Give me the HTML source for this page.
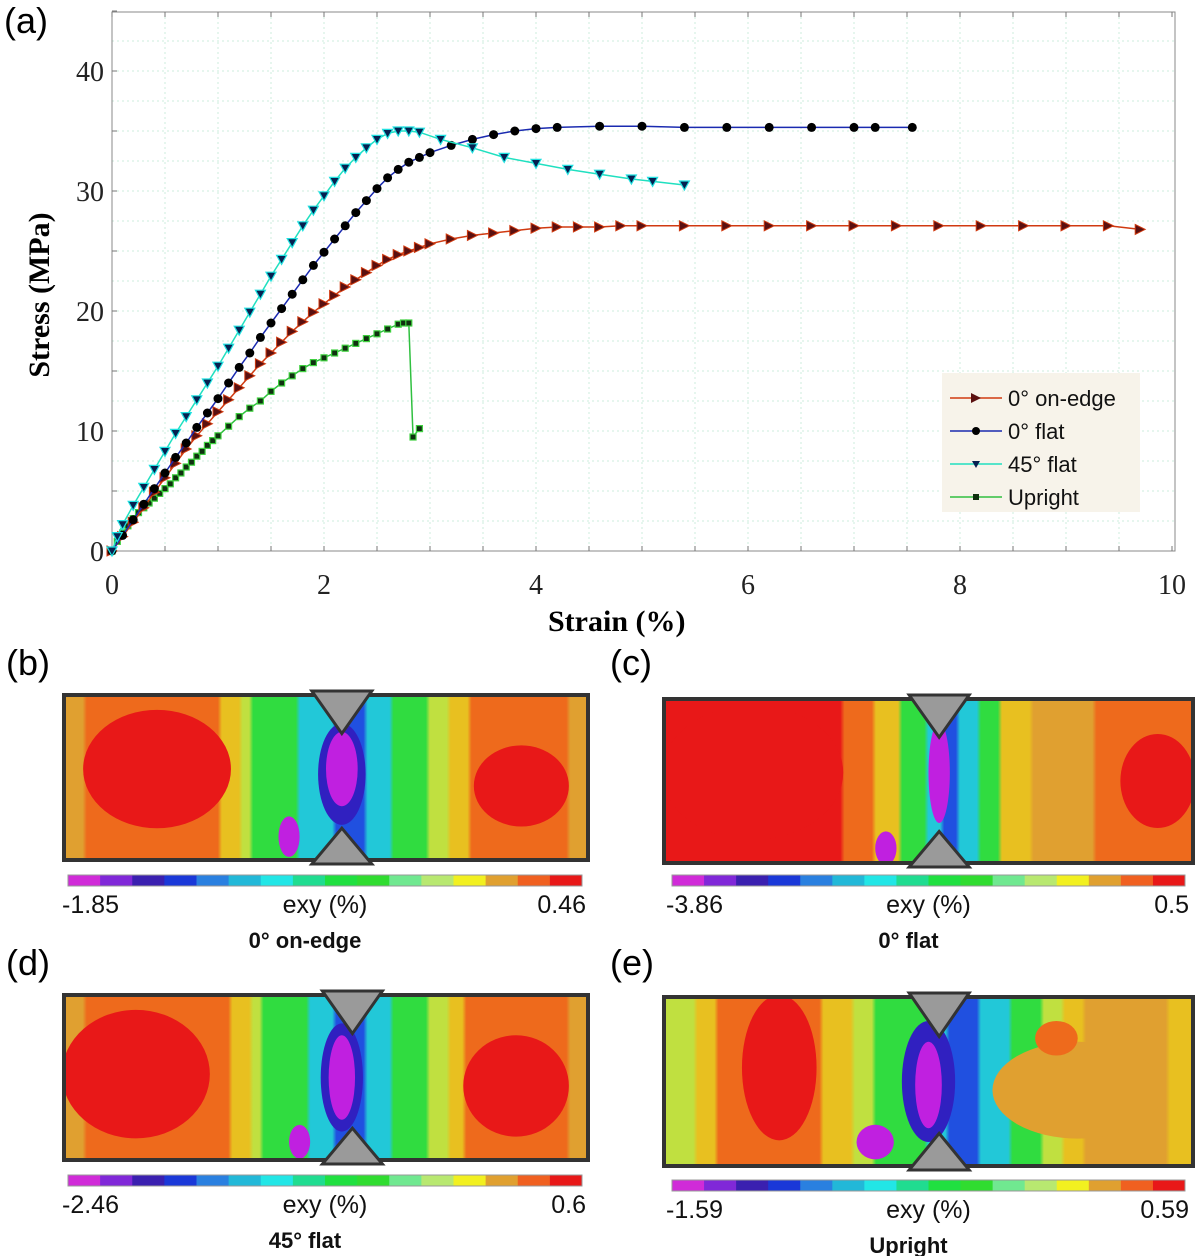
<!DOCTYPE html>
<html><head><meta charset="utf-8">
<style>
body{margin:0;background:#fff;width:1200px;height:1256px;overflow:hidden;position:relative;font-family:"Liberation Sans",sans-serif;}
.t{position:absolute;white-space:nowrap;}
</style></head>
<body>
<svg id="main" width="1200" height="1256" style="position:absolute;left:0;top:0"></svg>
<script>
// ---------- chart data ----------
const xTicks=[0,2,4,6,8,10];
const yTicks=[0,10,20,30,40];
const onEdgeX=[0,0.1,0.2,0.3,0.4,0.5,0.6,0.7,0.8,0.9,1.0,1.1,1.2,1.3,1.4,1.5,1.6,1.7,1.8,1.9,2.0,2.1,2.2,2.3,2.4,2.5,2.6,2.7,2.8,2.9,3.0,3.2,3.4,3.6,3.8,4.0,4.2,4.4,4.6,4.8,5.0,5.4,5.8,6.2,6.6,7.0,7.4,7.8,8.2,8.6,9.0,9.4,9.7];
const onEdgeY=[0,1.2,2.4,3.6,4.9,6.1,7.3,8.5,9.6,10.6,11.6,12.6,13.6,14.6,15.6,16.5,17.4,18.3,19.1,19.9,20.6,21.3,22.0,22.6,23.2,23.8,24.3,24.7,25.0,25.3,25.6,26.0,26.3,26.5,26.7,26.9,27.0,27.0,27.0,27.1,27.1,27.1,27.1,27.1,27.1,27.1,27.1,27.1,27.1,27.1,27.1,27.1,26.8];
const flatX=[0,0.1,0.2,0.3,0.4,0.5,0.6,0.7,0.8,0.9,1.0,1.1,1.2,1.3,1.4,1.5,1.6,1.7,1.8,1.9,2.0,2.1,2.2,2.3,2.4,2.5,2.6,2.7,2.8,2.9,3.0,3.2,3.4,3.6,3.8,4.0,4.2,4.6,5.0,5.4,5.8,6.2,6.6,7.0,7.2,7.55];
const flatY=[0,1.3,2.6,3.9,5.2,6.5,7.8,9.0,10.3,11.5,12.7,14.0,15.3,16.5,17.8,19.0,20.2,21.4,22.6,23.8,24.9,26.0,27.1,28.2,29.2,30.2,31.1,31.8,32.4,32.8,33.2,33.8,34.3,34.7,35.0,35.2,35.3,35.4,35.4,35.3,35.3,35.3,35.3,35.3,35.3,35.3];
const flat45X=[0,0.05,0.1,0.2,0.3,0.4,0.5,0.6,0.7,0.8,0.9,1.0,1.1,1.2,1.3,1.4,1.5,1.6,1.7,1.8,1.9,2.0,2.1,2.2,2.3,2.4,2.5,2.6,2.7,2.8,2.9,3.1,3.4,3.7,4.0,4.3,4.6,4.9,5.1,5.4];
const flat45Y=[0,1.2,2.2,3.8,5.3,6.8,8.3,9.8,11.2,12.6,14.0,15.4,16.9,18.4,19.9,21.4,22.9,24.3,25.7,27.1,28.4,29.6,30.8,31.9,32.8,33.6,34.3,34.8,35.0,35.0,34.9,34.3,33.6,32.8,32.3,31.8,31.4,31.0,30.8,30.5];
const uprightX=[0,0.05,0.1,0.15,0.2,0.25,0.3,0.35,0.4,0.45,0.5,0.55,0.6,0.65,0.7,0.75,0.8,0.85,0.9,0.95,1.0,1.1,1.2,1.3,1.4,1.5,1.6,1.7,1.8,1.9,2.0,2.1,2.2,2.3,2.4,2.5,2.6,2.7,2.75,2.8,2.84,2.9];
const uprightY=[0,0.8,1.5,2.1,2.7,3.2,3.6,4.0,4.4,4.8,5.2,5.6,6.1,6.5,7.0,7.4,7.9,8.3,8.8,9.2,9.6,10.4,11.2,11.9,12.5,13.3,14.0,14.6,15.2,15.7,16.1,16.5,16.9,17.3,17.7,18.1,18.5,18.9,19.0,19.0,9.5,10.2];

const NS='http://www.w3.org/2000/svg';
const svg=document.getElementById('main');
function mk(tag,attrs,parent){const e=document.createElementNS(NS,tag);for(const k in attrs)e.setAttribute(k,attrs[k]);(parent||svg).appendChild(e);return e;}
const X0=112,X1=1172,Y0=551,YPER=12;
const sx=v=>X0+(X1-X0)*v/10;
const sy=v=>Y0-v*YPER;

const frame=mk('g',{});


for(let v=0.5;v<10;v+=0.5){mk('line',{x1:sx(v),x2:sx(v),y1:12,y2:Y0,stroke:'#cdeedd','stroke-width':1,'stroke-dasharray':'2,3'},frame);}
for(let v=2.5;v<45;v+=2.5){mk('line',{x1:X0,x2:1175,y1:sy(v),y2:sy(v),stroke:'#cdeedd','stroke-width':1,'stroke-dasharray':'2,3'},frame);}
mk('rect',{x:X0,y:12,width:1175-X0,height:Y0-12,fill:'none',stroke:'#888','stroke-width':1},frame);
for(let v=0;v<=10;v+=0.5){mk('line',{x1:sx(v),x2:sx(v),y1:Y0,y2:Y0-5,stroke:'#777'},frame);mk('line',{x1:sx(v),x2:sx(v),y1:12,y2:17,stroke:'#777'},frame);}
for(let v=0;v<=45;v+=5){mk('line',{x1:X0,x2:X0+5,y1:sy(v),y2:sy(v),stroke:'#777'},frame);}
xTicks.forEach(v=>{const t=mk('text',{x:sx(v),y:594,'font-family':'Liberation Serif,serif','font-size':28,'text-anchor':'middle',fill:'#222'});t.textContent=v;

});
yTicks.forEach(v=>{const t=mk('text',{x:104,y:sy(v)+10,'font-family':'Liberation Serif,serif','font-size':28,'text-anchor':'end',fill:'#222'});t.textContent=v;

});

function series(xs,ys,line,name,marker){
  const g=mk('g',{});
  
  
  mk('polyline',{points:xs.map((x,i)=>sx(x)+','+sy(ys[i])).join(' '),fill:'none',stroke:line,'stroke-width':1.5},g);
  xs.forEach((x,i)=>{const cx=sx(x),cy=sy(ys[i]);let m;
    if(marker==='right')m=mk('polygon',{points:`${cx-5},${cy-5} ${cx+5},${cy} ${cx-5},${cy+5}`,fill:'#5a1010',stroke:'#d03a10','stroke-width':1},g);
    else if(marker==='circle')m=mk('circle',{cx:cx,cy:cy,r:4.5,fill:'#000'},g);
    else if(marker==='down')m=mk('polygon',{points:`${cx-5},${cy-4} ${cx+5},${cy-4} ${cx},${cy+5}`,fill:'#062050',stroke:'#20e0e0','stroke-width':1.2},g);
    else m=mk('rect',{x:cx-3,y:cy-3,width:6,height:6,fill:'#103010',stroke:'#40d040','stroke-width':1.2},g);
    
    
  });
}
series(uprightX,uprightY,'#30c040','series-upright','square');
series(onEdgeX,onEdgeY,'#d03a10','series-0-on-edge','right');
series(flatX,flatY,'#1a2ab0','series-0-flat','circle');
series(flat45X,flat45Y,'#20e0c0','series-45-flat','down');

const lg=mk('g',{});


mk('rect',{x:942,y:373,width:198,height:139,fill:'#f7f3ea'},lg);
const legItems=[['0° on-edge','#d03a10','right'],['0° flat','#1a2ab0','circle'],['45° flat','#20e0c0','down'],['Upright','#30c040','square']];
legItems.forEach((it,i)=>{const y=398+i*33;
  mk('line',{x1:950,x2:1002,y1:y,y2:y,stroke:it[1],'stroke-width':1.5},lg);
  const cx=976;
  if(it[2]==='right')mk('polygon',{points:`${cx-5},${y-5} ${cx+5},${y} ${cx-5},${y+5}`,fill:'#5a1010'},lg);
  else if(it[2]==='circle')mk('circle',{cx:cx,cy:y,r:4,fill:'#000'},lg);
  else if(it[2]==='down')mk('polygon',{points:`${cx-4},${y-3} ${cx+4},${y-3} ${cx},${y+4}`,fill:'#062050'},lg);
  else mk('rect',{x:cx-3,y:y-3,width:6,height:6,fill:'#103010'},lg);
  const t=mk('text',{x:1008,y:y+8,'font-size':22,fill:'#111','font-family':'Liberation Sans,sans-serif'},lg);t.textContent=it[0];
  
  
});

// ---------- DIC panels ----------
const cbar=['#d02bd8','#8028d8','#3a20b0','#1a38d8','#2a80e0','#22b8d8','#22e6e6','#20dc90','#20e040','#30dc30','#70e890','#b8e870','#f2f020','#e0a030','#f06020','#e81818'];
function panel(name,x,y,w,h,bands,blobs,notch){
  const g=mk('g',{});
  
  
  const id=name+'-grad';
  const defs=mk('defs',{},g);
  const lgd=mk('linearGradient',{id:id,x1:0,x2:1,y1:0,y2:0},defs);
  for(let i=0;i<bands.length;i++){
    const s=bands[i][0],e=i+1<bands.length?bands[i+1][0]:1;
    mk('stop',{offset:s,'stop-color':bands[i][1]},lgd);mk('stop',{offset:e-0.008,'stop-color':bands[i][1]},lgd);
  }
  const cp=mk('clipPath',{id:id+'-clip'},defs);
  mk('rect',{x:x+4,y:y+4,width:w-8,height:h-8},cp);
  mk('rect',{x:x,y:y,width:w,height:h,fill:'#333'},g);
  const inner=mk('g',{'clip-path':`url(#${id}-clip)`},g);
  mk('rect',{x:x+4,y:y+4,width:w-8,height:h-8,fill:`url(#${id})`},inner);
  blobs.forEach(b=>mk('ellipse',{cx:x+w*b[0],cy:y+h*b[1],rx:w*b[2],ry:h*b[3],fill:b[4]},inner));
  const nx=x+w*notch;
  mk('polygon',{points:`${nx-30},${y-2} ${nx+30},${y-2} ${nx},${y+h*0.24}`,fill:'#9a9a9a',stroke:'#333','stroke-width':3},g);
  mk('polygon',{points:`${nx-30},${y+h+2} ${nx+30},${y+h+2} ${nx},${y+h*0.8}`,fill:'#9a9a9a',stroke:'#333','stroke-width':3},g);
}
function colorbar(name,x,y,w,lo,hi,cap){
  const g=mk('g',{});
  
  
  const sw=w/cbar.length;
  cbar.forEach((c,i)=>mk('rect',{x:x+i*sw,y:y,width:sw+0.5,height:11,fill:c},g));
  mk('rect',{x:x,y:y,width:w,height:11,fill:'none',stroke:'#999'},g);
  const a=mk('text',{x:x-6,y:y+38,'font-size':25,fill:'#111'},g);a.textContent=lo;
  const b=mk('text',{x:x+w+4,y:y+38,'font-size':25,'text-anchor':'end',fill:'#111'},g);b.textContent=hi;
  const c=mk('text',{x:x+w/2,y:y+38,'font-size':25,'text-anchor':'middle',fill:'#111'},g);c.textContent='exy (%)';
  const d=mk('text',{x:x+w/2-20,y:y+73,'font-size':22,'font-weight':'bold','text-anchor':'middle',fill:'#111'},g);d.textContent=cap;
}
const O='#ee6a1c',R='#e81818',Y='#e8c020',YG='#c0e040',G='#30dc40',C='#22c8d8',B='#2050e0',M='#c020e0',A='#e0a030';
panel('dic-b-0-on-edge',62,693,528,169,
 [[0,A],[0.04,O],[0.3,Y],[0.34,YG],[0.36,G],[0.45,C],[0.52,B],[0.58,C],[0.63,G],[0.7,YG],[0.74,Y],[0.78,O],[0.97,A]],
 [[0.18,0.45,0.14,0.35,R],[0.53,0.48,0.045,0.3,'#3020c0'],[0.53,0.45,0.03,0.22,M],[0.43,0.85,0.02,0.12,M],[0.87,0.55,0.09,0.24,R]],0.53);
colorbar('colorbar-b',68,875,514,'-1.85','0.46','0° on-edge');
panel('dic-c-0-flat',662,697,533,168,
 [[0,R],[0.02,R],[0.34,O],[0.4,Y],[0.45,G],[0.5,C],[0.53,B],[0.56,C],[0.6,G],[0.64,Y],[0.7,A],[0.82,O]],
 [[0.17,0.45,0.17,0.4,R],[0.52,0.45,0.02,0.3,M],[0.42,0.9,0.02,0.1,M],[0.93,0.5,0.07,0.28,R]],0.52);
colorbar('colorbar-c',672,875,513,'-3.86','0.5','0° flat');
panel('dic-d-45-flat',62,993,528,169,
 [[0,A],[0.04,O],[0.32,Y],[0.36,YG],[0.38,G],[0.47,C],[0.52,B],[0.58,C],[0.63,G],[0.7,YG],[0.74,Y],[0.77,O],[0.97,A]],
 [[0.14,0.48,0.14,0.38,R],[0.53,0.5,0.04,0.32,'#3020c0'],[0.53,0.5,0.025,0.25,M],[0.45,0.88,0.02,0.1,M],[0.86,0.55,0.1,0.3,R]],0.55);
colorbar('colorbar-d',68,1175,514,'-2.46','0.6','45° flat');
panel('dic-e-upright',662,995,533,173,
 [[0,YG],[0.06,Y],[0.1,O],[0.3,Y],[0.36,YG],[0.4,G],[0.5,C],[0.54,B],[0.6,C],[0.66,G],[0.72,YG],[0.76,Y],[0.8,A],[0.96,Y]],
 [[0.22,0.42,0.07,0.42,R],[0.5,0.5,0.05,0.35,'#3020c0'],[0.5,0.52,0.025,0.25,M],[0.4,0.85,0.035,0.1,M],[0.78,0.55,0.16,0.28,A],[0.74,0.25,0.04,0.1,O]],0.52);
colorbar('colorbar-e',672,1180,513,'-1.59','0.59','Upright');
</script>
<div class="t" style="left:4px;top:0px;font-size:36px">(a)</div>
<div class="t" style="left:6px;top:642px;font-size:36px">(b)</div>
<div class="t" style="left:610px;top:642px;font-size:36px">(c)</div>
<div class="t" style="left:6px;top:942px;font-size:36px">(d)</div>
<div class="t" style="left:610px;top:942px;font-size:36px">(e)</div>
<div class="t" style="left:548px;top:605px;font-size:30px;font-weight:bold;font-family:'Liberation Serif',serif">Strain (%)</div>
<div class="t" style="left:-50px;top:278px;width:180px;text-align:center;font-size:30px;font-weight:bold;font-family:'Liberation Serif',serif;transform:rotate(-90deg)">Stress (MPa)</div>
</body></html>
